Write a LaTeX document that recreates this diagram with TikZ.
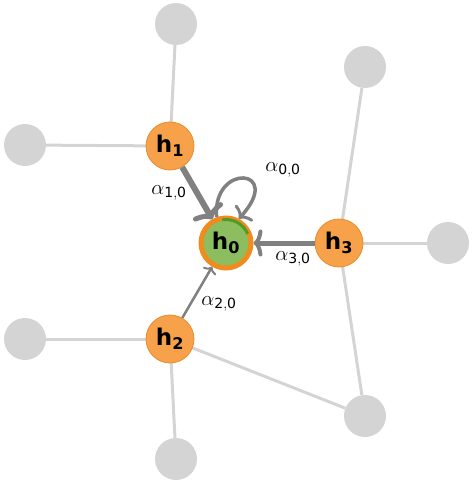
\documentclass[tikz,border=0pt]{standalone}
\usepackage{fontspec}
\setsansfont{DejaVu Sans}
\usetikzlibrary{arrows.meta}
\definecolor{orng}{RGB}{247,162,75}
\definecolor{orngd}{RGB}{232,140,45}
\definecolor{ring}{RGB}{240,140,30}
\definecolor{lgray}{RGB}{212,212,212}
\definecolor{dgray}{RGB}{128,128,128}
\definecolor{gfill}{RGB}{140,190,95}
\definecolor{gdark}{RGB}{80,155,35}
\tikzset{
  gnode/.style={circle,fill=lgray,minimum size=42pt,inner sep=0pt},
  hnode/.style={circle,fill=orng,draw=orngd,line width=0.8pt,minimum size=48pt,inner sep=0pt,font=\sffamily\bfseries\fontsize{23}{23}\selectfont},
  cnode/.style={circle,fill=gfill,draw=ring,line width=5pt,minimum size=50pt,inner sep=0pt,font=\sffamily\bfseries\fontsize{23}{23}\selectfont},
  ledge/.style={draw=lgray,line width=3pt},
  aedge/.style={draw=dgray},
  lbl/.style={font=\fontsize{20}{20}\selectfont,inner sep=1pt}
}
\begin{document}
\begin{tikzpicture}[x=1pt,y=-1pt]
\useasboundingbox (0,0) rectangle (474,484);
% gray nodes
\node[gnode] (gt) at (176,24) {};
\node[gnode] (gl1) at (25,145) {};
\node[gnode] (gtr) at (365,67) {};
\node[gnode] (gr) at (448,243) {};
\node[gnode] (gl2) at (25,339) {};
\node[gnode] (gbr) at (365,416) {};
\node[gnode] (gb) at (176,459) {};
% light edges
\coordinate (H1) at (170,146);
\coordinate (H2) at (170,339);
\coordinate (H3) at (339,243);
\draw[ledge] (gt) -- (H1);
\draw[ledge] (gl1) -- (H1);
\draw[ledge] (gl2) -- (H2);
\draw[ledge] (gb) -- (H2);
\draw[ledge] (gbr) -- (H2);
\draw[ledge] (gtr) -- (H3);
\draw[ledge] (gr) -- (H3);
\draw[ledge] (gbr) -- (H3);
% main nodes
\node[hnode] (h1) at (H1) {h\textsubscript{1}};
\node[hnode] (h2) at (H2) {h\textsubscript{2}};
\node[hnode] (h3) at (H3) {h\textsubscript{3}};
\node[cnode] (h0) at (226,243) {h\textsubscript{0}};
\draw[gdark,line width=3pt] (226,243) ++(-99:23.5) arc[start angle=-99,end angle=-23,radius=23.5];
% arrows
\draw[aedge,line width=6pt,-{Computer Modern Rightarrow[length=11pt,width=34pt,line width=5pt]}] (h1) -- (h0);
\draw[aedge,line width=5pt,-{Computer Modern Rightarrow[length=9pt,width=27pt,line width=4pt]}] (h3) -- (h0);
\draw[aedge,line width=2.5pt,-{Computer Modern Rightarrow[length=6pt,width=15pt,line width=2pt]}] (h2) -- (h0);
\draw[aedge,line width=3.5pt,-{Computer Modern Rightarrow[length=9pt,width=24pt,line width=3pt]}] (h0.110) .. controls (212,162) and (285,168) .. (h0.62);
% labels
\node[lbl] (a10) at (169,193) {$\alpha_{\mathsf{1,0}}$};
\node[lbl] (a00) at (283,170) {$\alpha_{\mathsf{0,0}}$};
\node[lbl] (a30) at (293,259) {$\alpha_{\mathsf{3,0}}$};
\node[lbl] (a20) at (219,304) {$\alpha_{\mathsf{2,0}}$};
\end{tikzpicture}
\end{document}
